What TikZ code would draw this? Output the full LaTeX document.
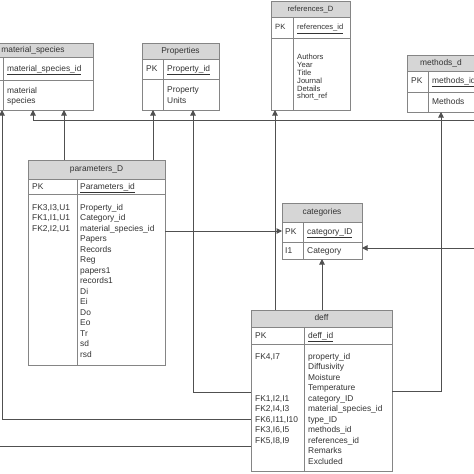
\documentclass[tikz,border=0pt]{standalone}
\usepackage{fontspec}
\setmainfont{Liberation Sans}
\usetikzlibrary{arrows.meta}
\definecolor{boxc}{HTML}{858585}
\definecolor{hdrc}{HTML}{D6D6D6}
\definecolor{linec}{HTML}{505050}
\definecolor{txtc}{HTML}{333333}
\tikzset{
 tbl/.style={draw=boxc, line width=0.9pt, inner sep=0pt, outer sep=0pt, anchor=north west},
 sepline/.style={draw=boxc, line width=0.9pt},
 txt/.style={font=\fontsize{8.4}{10}\selectfont, text=txtc, inner sep=0pt, text height=6pt, text depth=1.8pt, anchor=west},
 reft/.style={txt, font=\fontsize{7.6}{9}\selectfont, text height=5.5pt, text depth=1.6pt},
 hd/.style={txt, anchor=center},
 conn/.style={draw=linec, line width=1pt},
 arr/.style={conn, -{Triangle[width=5.5pt,length=5.5pt]}},
}
% name, x1, y1, x2, y2, header bottom, pk bottom, divider x
\newcommand{\ertab}[8]{%
 \fill[hdrc] (#2,#3) rectangle (#4,#6);
 \draw[sepline] (#2,#6) -- (#4,#6) (#2,#7) -- (#4,#7) (#8,#6) -- (#8,#5);
 \node[tbl, minimum width={(#4)-(#2)}, minimum height={(#5)-(#3)}] (#1) at (#2,#3) {};
}
\begin{document}
\begin{tikzpicture}[x=1pt,y=-1pt]
\useasboundingbox (0,0) rectangle (474,474);
\fill[white] (0,0) rectangle (474,474);
\clip (0,0) rectangle (474,474);

% ---------- tables ----------
\ertab{ms}{-27}{43}{93}{110}{57}{80}{3}
\node[hd] (msh) at (33,50) {material\_species};
\node[txt] (msid) at (7,69) {\underline{material\_species\_id}};
\node[txt] (msb1) at (7,91) {material};
\node[txt] (msb2) at (7,101) {species};

\ertab{props}{142}{43}{219}{110}{59}{79}{163}
\node[hd] (proh) at (180.5,51) {Properties};
\node[txt] (propk) at (146,69) {PK};
\node[txt] (proid) at (167,69) {\underline{Property\_id}};
\node[txt] (prob1) at (167,90) {Property};
\node[txt] (prob2) at (167,101) {Units};

\ertab{refs}{271}{1}{350}{110}{17}{38}{293}
\node[hd, reft, anchor=center] (refh) at (310.5,9.5) {references\_D};
\node[reft] (refpk) at (275,28) {PK};
\node[reft] (refid) at (297,28) {\underline{references\_id}};
\foreach \t [count=\i from 0] in {Authors, Year, Title, Journal, Details, short\_ref}
  \node[reft] (refb\i) at (297,{58+7.8*\i}) {\t};

\ertab{meth}{407}{55}{475}{112}{71}{92}{428}
\node[hd] (meh) at (441,63) {methods\_d};
\node[txt] (mepk) at (411,81.5) {PK};
\node[txt] (meid) at (432,81.5) {\underline{methods\_id}};
\node[txt] (meb1) at (432,102) {Methods};

\ertab{params}{28}{160}{165}{365}{179}{194}{77}
\node[hd] (parh) at (96.5,169.5) {parameters\_D};
\node[txt] (parpk) at (32,187) {PK};
\node[txt] (parid) at (80,187) {\underline{Parameters\_id}};
\foreach \t [count=\i from 0] in {{FK3,I3,U1}, {FK1,I1,U1}, {FK2,I2,U1}}
  \node[txt] (parfk\i) at (32,{208+10.5*\i}) {\t};
\foreach \t [count=\i from 0] in {Property\_id, Category\_id, material\_species\_id, Papers, Records, Reg, papers1, records1, Di, Ei, Do, Eo, Tr, sd, rsd}
  \node[txt] (parb\i) at (80,{208+10.5*\i}) {\t};

\ertab{cat}{282}{203}{362}{259}{222}{242}{303}
\node[hd] (cath) at (322,212.5) {categories};
\node[txt] (catpk) at (285,232) {PK};
\node[txt] (catid) at (307,232) {\underline{category\_ID}};
\node[txt] (catfk) at (285,251) {I1};
\node[txt] (catb1) at (307,251) {Category};

\ertab{deff}{251}{310}{392}{471}{327}{344}{304}
\node[hd] (defh) at (321.5,318.5) {deff};
\node[txt] (defpk) at (255,336) {PK};
\node[txt] (defid) at (308,336) {\underline{deff\_id}};
\node[txt] (deffk0) at (255,357) {FK4,I7};
\foreach \t [count=\i from 4] in {{FK1,I2,I1}, {FK2,I4,I3}, {FK6,I11,I10}, {FK3,I6,I5}, {FK5,I8,I9}}
  \node[txt] (deffk\i) at (255,{357+10.5*\i}) {\t};
\foreach \t [count=\i from 0] in {property\_id, Diffusivity, Moisture, Temperature, category\_ID, material\_species\_id, type\_ID, methods\_id, references\_id, Remarks, Excluded}
  \node[txt] (defb\i) at (308,{357+10.5*\i}) {\t};

% ---------- connector coordinates ----------
\coordinate (k1) at (2,419);
\coordinate (k2) at (33,120);
\coordinate (k2e) at (480,120);
\coordinate (x64) at (64,0);
\coordinate (x153) at (153,0);
\coordinate (k5) at (193,392);
\coordinate (x275) at (275,0);
\coordinate (x322) at (322,0);
\coordinate (k8) at (441,391);
\coordinate (y231) at (0,231);
\coordinate (k10) at (480,248);
\coordinate (k11) at (-5,446);

% ---------- connectors ----------
\draw[arr] (deff.west |- k1) -- (k1) -- (ms.south -| k1);
\draw[arr] (k2e) -- (k2) -- (ms.south -| k2);
\draw[arr] (params.north -| x64) -- (ms.south -| x64);
\draw[arr] (params.north -| x153) -- (props.south -| x153);
\draw[arr] (deff.west |- k5) -- (k5) -- (props.south -| k5);
\draw[arr] (deff.north -| x275) -- (refs.south -| x275);
\draw[arr] (deff.north -| x322) -- (cat.south -| x322);
\draw[arr] (deff.east |- k8) -- (k8) -- (meth.south -| k8);
\draw[arr] (params.east |- y231) -- (cat.west |- y231);
\draw[arr] (k10) -- (cat.east |- k10);
\draw[conn] (k11) -- (deff.west |- k11);
\end{tikzpicture}
\end{document}
